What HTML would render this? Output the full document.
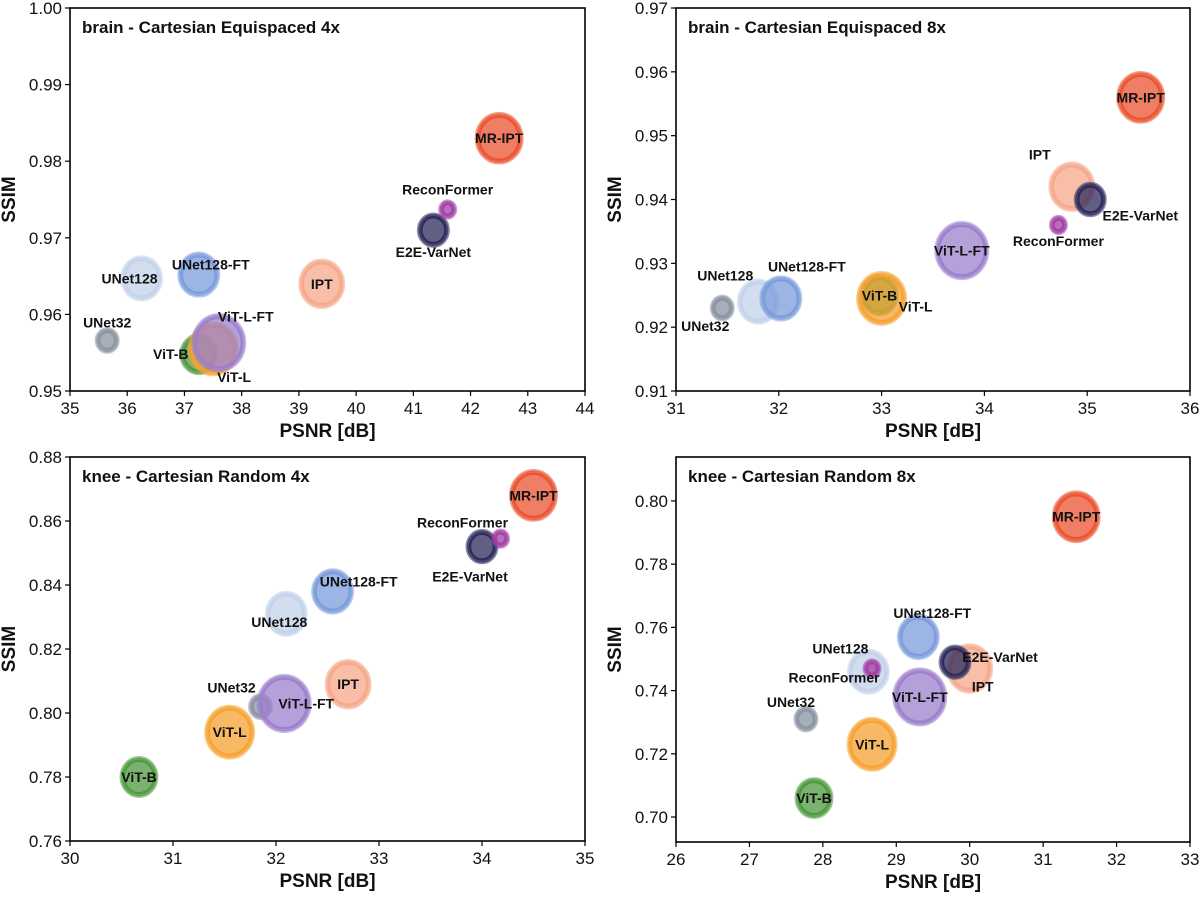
<!DOCTYPE html>
<html><head><meta charset="utf-8"><style>
body{margin:0;background:#fff;width:1200px;height:898px;overflow:hidden}
svg{font-family:"Liberation Sans",sans-serif}
</style></head><body>
<svg id="c" width="1200" height="898"></svg>
<script>
const methods=["UNet32","UNet128","UNet128-FT","ViT-B","ViT-L","ViT-L-FT","IPT","E2E-VarNet","ReconFormer","MR-IPT"];
const colors=["#8a93a2","#c3d2ea","#7b9cdc","#4d9a3f","#f6a232","#9c80cc","#f5a88b","#2d2a5c","#a23fa6","#ea5330"];
const radii=[11,20,20,18,24,26,22,15,8,23];
const p1x=[35.65,36.25,37.25,37.25,37.5,37.6,39.4,41.35,41.6,42.5];
const p1y=[0.9566,0.9647,0.9652,0.9548,0.9555,0.9563,0.964,0.971,0.9737,0.983];
const p2x=[31.45,31.8,32.02,32.98,33.0,33.78,34.85,35.03,34.72,35.52];
const p2y=[0.923,0.924,0.9245,0.925,0.9245,0.932,0.942,0.940,0.936,0.956];
const p3x=[31.85,32.1,32.55,30.67,31.55,32.08,32.7,34.0,34.18,34.5];
const p3y=[0.802,0.831,0.838,0.780,0.794,0.803,0.809,0.852,0.8545,0.868];
const p4x=[27.77,28.62,29.3,27.88,28.67,29.32,30.0,29.8,28.67,31.45];
const p4y=[0.731,0.746,0.757,0.706,0.723,0.738,0.747,0.749,0.747,0.795];
const xt1=[35,36,37,38,39,40,41,42,43,44], yt1=[0.95,0.96,0.97,0.98,0.99,1.00];
const xt2=[31,32,33,34,35,36], yt2=[0.91,0.92,0.93,0.94,0.95,0.96,0.97];
const xt3=[30,31,32,33,34,35], yt3=[0.76,0.78,0.80,0.82,0.84,0.86,0.88];
const xt4=[26,27,28,29,30,31,32,33], yt4=[0.70,0.72,0.74,0.76,0.78,0.80];
const panels=[
 {t:"brain - Cartesian Equispaced 4x",L:70,R:585,T:8,B:391,x0:35,x1:44,y0:0.95,y1:1.00,xs:p1x,ys:p1y,xt:xt1,yt:yt1,dp:2,
  lab:[[0,-18],[-12,0],[12,-10],[-28,0],[21,28],[27,-26],[0,0],[0,22],[0,-20],[0,0]]},
 {t:"brain - Cartesian Equispaced 8x",L:676,R:1190,T:8,B:391,x0:31,x1:36,y0:0.91,y1:0.97,xs:p2x,ys:p2y,xt:xt2,yt:yt2,dp:2,
  lab:[[-17,18],[-33,-26],[26,-32],[0,0],[34,8],[0,0],[-32,-32],[50,16],[0,16],[0,0]]},
 {t:"knee - Cartesian Random 4x",L:70,R:585,T:457,B:841,x0:30,x1:35,y0:0.76,y1:0.88,xs:p3x,ys:p3y,xt:xt3,yt:yt3,dp:2,
  lab:[[-29,-19],[-7,8],[26,-10],[0,0],[0,0],[22,0],[0,0],[-12,30],[-38,-16],[0,0]]},
 {t:"knee - Cartesian Random 8x",L:676,R:1190,T:457,B:842,x0:26,x1:33,y0:0.6921,y1:0.8139,xs:p4x,ys:p4y,xt:xt4,yt:yt4,dp:2,
  lab:[[-15,-17],[-28,-23],[14,-24],[0,0],[0,0],[0,0],[13,18],[45,-5],[-38,9],[0,0]]}
];
const NS="http://www.w3.org/2000/svg", svg=document.getElementById("c");
function mk(tag,at,par,txt){const e=document.createElementNS(NS,tag);for(const k in at)e.setAttribute(k,at[k]);if(txt!==undefined)e.textContent=txt;(par||svg).appendChild(e);return e;}
panels.forEach((p,pi)=>{
 const g=mk("g",{});
 
 
 const sx=v=>p.L+(v-p.x0)/(p.x1-p.x0)*(p.R-p.L);
 const sy=v=>p.B-(v-p.y0)/(p.y1-p.y0)*(p.B-p.T);
 p.xs.forEach((xv,i)=>{
  const r=radii[i];
  const e=mk("ellipse",{cx:sx(xv),cy:sy(p.ys[i]),rx:r,ry:r*1.08,fill:colors[i],"fill-opacity":0.75,stroke:colors[i],"stroke-width":3,"stroke-opacity":0.55},g);
  
  
  const inner=mk("ellipse",{cx:sx(xv),cy:sy(p.ys[i]),rx:r-3,ry:(r-3)*1.08,fill:"none",stroke:colors[i],"stroke-width":2.5,"stroke-opacity":0.95},g);
  
  
 });
 p.xs.forEach((xv,i)=>{
  const o=p.lab[i];
  const t=mk("text",{x:sx(xv)+o[0],y:sy(p.ys[i])+o[1]+5,"text-anchor":"middle","font-size":14,"font-weight":"bold",fill:"#111"},g,methods[i]);
  
  
 });
 const box=mk("rect",{x:p.L,y:p.T,width:p.R-p.L,height:p.B-p.T,fill:"none",stroke:"#000","stroke-width":1.6},g);
 
 
 p.xt.forEach(v=>{
  mk("line",{x1:sx(v),x2:sx(v),y1:p.B,y2:p.B+5,stroke:"#000","stroke-width":1.2},g);
  const t=mk("text",{x:sx(v),y:p.B+23,"text-anchor":"middle","font-size":17,fill:"#111"},g,String(v));
  
  
 });
 p.yt.forEach(v=>{
  mk("line",{x1:p.L-5,x2:p.L,y1:sy(v),y2:sy(v),stroke:"#000","stroke-width":1.2},g);
  const t=mk("text",{x:p.L-8,y:sy(v)+6,"text-anchor":"end","font-size":17,fill:"#111"},g,v.toFixed(p.dp));
  
  
 });
 const xtit=mk("text",{x:(p.L+p.R)/2,y:p.B+46,"text-anchor":"middle","font-size":19,"font-weight":"bold",fill:"#111"},g,"PSNR [dB]");
 
 
 const cx=p.L-55, cy=(p.T+p.B)/2;
 const ytit=mk("text",{x:cx,y:cy,"text-anchor":"middle","font-size":19,"font-weight":"bold",fill:"#111",transform:`rotate(-90 ${cx} ${cy})`},g,"SSIM");
 
 
 const tt=mk("text",{x:p.L+12,y:p.T+25,"font-size":17,"font-weight":"bold",fill:"#111"},g,p.t);
 
 
});
</script>
</body></html>
